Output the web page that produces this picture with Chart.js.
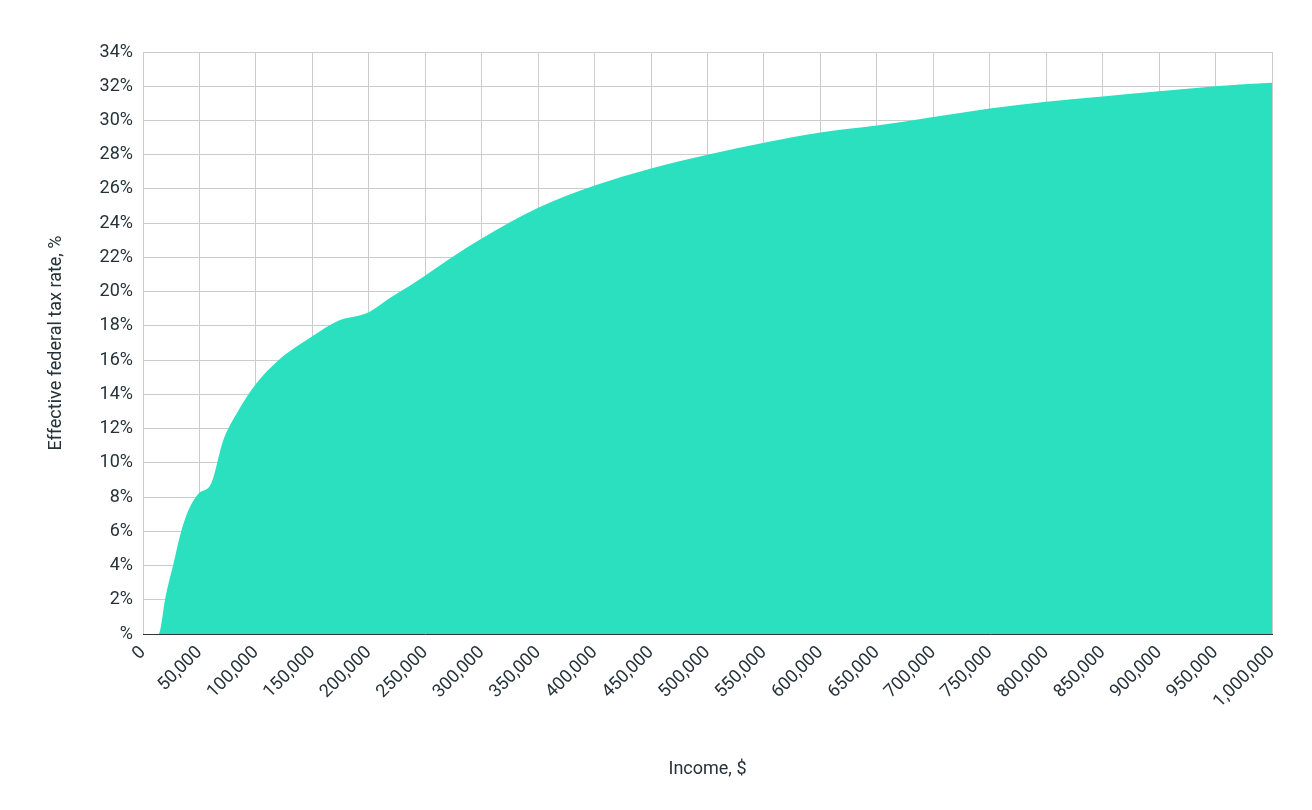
<!DOCTYPE html>
<html><head><meta charset="utf-8">
<script src="https://cdn.jsdelivr.net/npm/chart.js@4"></script>
<style>html,body{margin:0;background:#fff}#w{width:1312px;height:810px}</style>
</head><body><div id="w"><canvas id="c"></canvas></div>
<script>
const incomes=[0,13850,20000,26600,33000,40000,49000,60400,71000,84000,100000,120000,150000,173000,200000,218000,240000,271000,300000,350000,400000,450000,500000,550000,600000,650000,700000,750000,800000,850000,900000,950000,1000000];
const rates=[0,0,2.2,4.0,5.8,7.2,8.2,8.8,11.3,13.0,14.6,16.0,17.4,18.3,18.8,19.6,20.5,21.9,23.1,24.9,26.2,27.2,28.0,28.7,29.3,29.7,30.2,30.7,31.1,31.4,31.7,32.0,32.2];
const font={family:'Roboto',size:18};
new Chart(document.getElementById('c'),{type:'line',
data:{datasets:[{data:incomes.map((x,i)=>({x,y:rates[i]})),fill:'origin',backgroundColor:'#2ae0bf',borderWidth:0,pointRadius:0,tension:0.3,cubicInterpolationMode:'monotone'}]},
options:{responsive:true,maintainAspectRatio:false,animation:false,
layout:{padding:{top:52,right:40,left:42,bottom:26}},
plugins:{legend:{display:false},tooltip:{enabled:false}},
scales:{
x:{type:'linear',min:0,max:1000000,grid:{color:'#cccccc',drawTicks:false},border:{color:'#333'},
ticks:{stepSize:50000,maxRotation:45,minRotation:45,color:'#253238',font,padding:8,callback:v=>v.toLocaleString('en-US')},
title:{display:true,text:'Income, $',color:'#253238',font,padding:{top:38}}},
y:{min:0,max:34,grid:{color:'#cccccc',drawTicks:false},border:{display:false},
ticks:{stepSize:2,color:'#253238',font,padding:10,callback:v=>v===0?'%':v+'%'},
title:{display:true,text:'Effective federal tax rate, %',color:'#253238',font,padding:{bottom:22}}}}}});
</script></body></html>
